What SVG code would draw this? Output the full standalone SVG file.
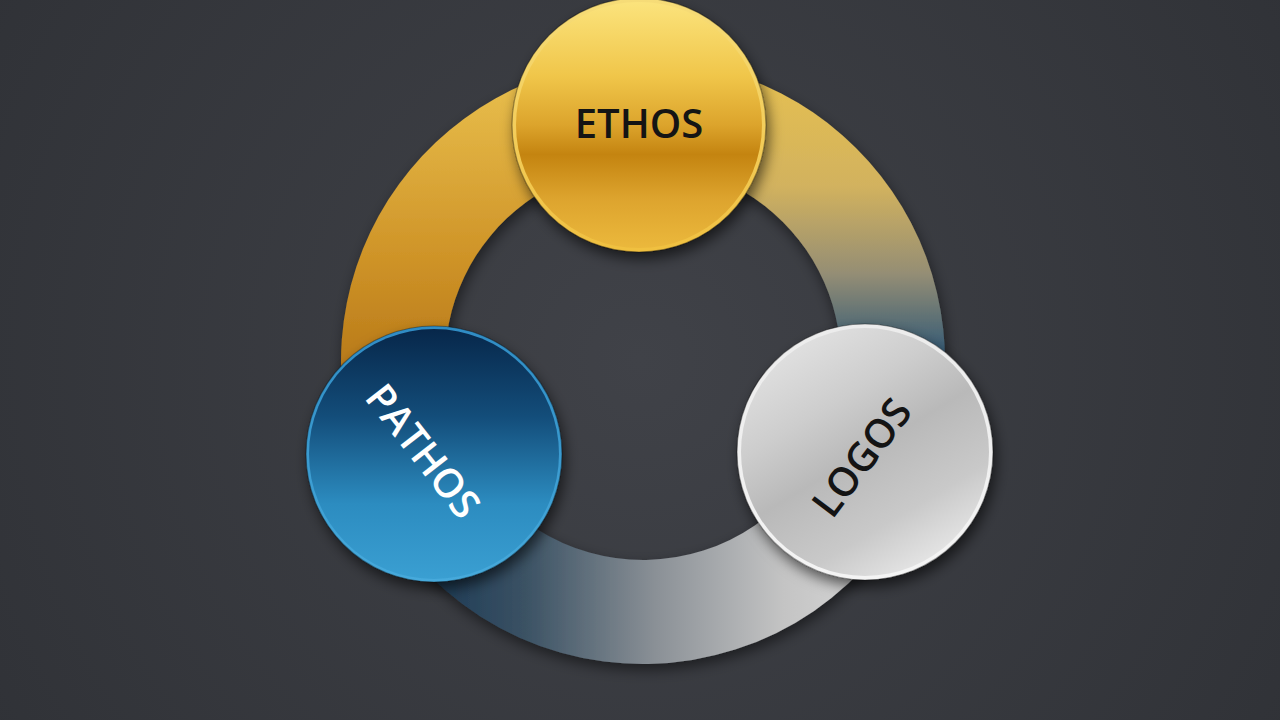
<svg xmlns="http://www.w3.org/2000/svg" width="1280" height="720" viewBox="0 0 1280 720">
<defs>
<radialGradient id="bg" cx="640" cy="360" r="760" gradientUnits="userSpaceOnUse">
<stop offset="0" stop-color="#404248"/>
<stop offset="1" stop-color="#303237"/>
</radialGradient>
<linearGradient id="segL" x1="0" y1="80" x2="0" y2="470" gradientUnits="userSpaceOnUse">
<stop offset="0" stop-color="#e8be4c"/>
<stop offset="0.45" stop-color="#cf9428"/>
<stop offset="1" stop-color="#a4620c"/>
</linearGradient>
<linearGradient id="segR" x1="0" y1="70" x2="0" y2="360" gradientUnits="userSpaceOnUse">
<stop offset="0" stop-color="#e6c050"/>
<stop offset="0.4" stop-color="#d2b25e"/>
<stop offset="0.7" stop-color="#958e74"/>
<stop offset="1" stop-color="#2c5676"/>
</linearGradient>
<linearGradient id="segB" x1="440" y1="0" x2="870" y2="0" gradientUnits="userSpaceOnUse">
<stop offset="0" stop-color="#1f3c56"/>
<stop offset="0.2" stop-color="#3b5264"/>
<stop offset="0.5" stop-color="#8a9096"/>
<stop offset="0.8" stop-color="#c4c4c4"/>
<stop offset="1" stop-color="#d6d6d6"/>
</linearGradient>
<linearGradient id="ethRim" x1="0" y1="0" x2="0" y2="1">
<stop offset="0" stop-color="#f6dc78"/>
<stop offset="1" stop-color="#f0c040"/>
</linearGradient>
<linearGradient id="ethBody" x1="0" y1="0" x2="0" y2="1">
<stop offset="0" stop-color="#fbe37c"/>
<stop offset="0.3" stop-color="#f0c64a"/>
<stop offset="0.5" stop-color="#dca42c"/>
<stop offset="0.62" stop-color="#c48410"/>
<stop offset="0.8" stop-color="#dda42e"/>
<stop offset="1" stop-color="#ebb83c"/>
</linearGradient>
<linearGradient id="patRim" x1="0" y1="0" x2="0" y2="1">
<stop offset="0" stop-color="#2f8cc4"/>
<stop offset="1" stop-color="#46aadc"/>
</linearGradient>
<linearGradient id="patBody" x1="0" y1="0" x2="0" y2="1">
<stop offset="0" stop-color="#07274a"/>
<stop offset="0.35" stop-color="#134d7a"/>
<stop offset="0.7" stop-color="#2c8cc0"/>
<stop offset="1" stop-color="#3a9fd2"/>
</linearGradient>
<linearGradient id="logRim" x1="0" y1="0" x2="0" y2="1">
<stop offset="0" stop-color="#ececec"/>
<stop offset="1" stop-color="#f4f4f4"/>
</linearGradient>
<linearGradient id="logBody" x1="0.2" y1="0" x2="0.8" y2="1">
<stop offset="0" stop-color="#e4e4e4"/>
<stop offset="0.3" stop-color="#cdcdcd"/>
<stop offset="0.5" stop-color="#b9b9b9"/>
<stop offset="0.75" stop-color="#c9c9c9"/>
<stop offset="1" stop-color="#ededed"/>
</linearGradient>
<filter id="sh" x="-30%" y="-30%" width="160%" height="160%">
<feDropShadow dx="3" dy="7" stdDeviation="7" flood-color="#000" flood-opacity="0.6"/>
</filter>
<filter id="rsh" x="-20%" y="-20%" width="140%" height="140%">
<feDropShadow dx="2" dy="6" stdDeviation="7" flood-color="#000" flood-opacity="0.5"/>
</filter>
<style>
.lbl{font-family:"Open Sans","Liberation Sans",sans-serif;font-size:40px;font-weight:600;text-anchor:middle}
.edge{fill:none;stroke:#000;stroke-opacity:0.35;stroke-width:1.2}
</style>
</defs>
<rect width="1280" height="720" fill="url(#bg)"/>
<g id="connectors" filter="url(#rsh)">
<path id="ring-left" fill="url(#segL)" d="M367.11,484.84 A302,302 0 0 1 637.73,60.05 L639.54,164.03 A198,198 0 0 0 462.12,442.53 Z"/>
<path id="ring-right" fill="url(#segR)" d="M637.73,60.05 A302,302 0 0 1 923.01,475.13 L826.58,436.17 A198,198 0 0 0 639.54,164.03 Z"/>
<path id="ring-bottom" fill="url(#segB)" d="M923.01,475.13 A302,302 0 0 1 367.11,484.84 L462.12,442.53 A198,198 0 0 0 826.58,436.17 Z"/>
</g>
<g id="ethos">
<circle cx="639" cy="125" r="127" fill="url(#ethRim)" filter="url(#sh)"/>
<circle cx="639" cy="125" r="127" class="edge" stroke="#9a6a10"/>
<circle cx="639" cy="125" r="123" fill="url(#ethBody)"/>
<text class="lbl" x="639" y="138" fill="#141414" font-size="42">ETHOS</text>
</g>
<g id="pathos">
<circle cx="434" cy="454" r="128" fill="url(#patRim)" filter="url(#sh)"/>
<circle cx="434" cy="454" r="128" class="edge"/>
<circle cx="434" cy="454" r="125" fill="url(#patBody)"/>
<text class="lbl" fill="#ffffff" transform="translate(423,451) rotate(52)" x="0" y="14">PATHOS</text>
</g>
<g id="logos">
<circle cx="865" cy="452" r="128" fill="url(#logRim)" filter="url(#sh)"/>
<circle cx="865" cy="452" r="128" class="edge" stroke="#666"/>
<circle cx="865" cy="452" r="124" fill="url(#logBody)"/>
<text class="lbl" fill="#141414" font-size="43" transform="translate(861,457) rotate(-53)" x="0" y="15">LOGOS</text>
</g>
</svg>
